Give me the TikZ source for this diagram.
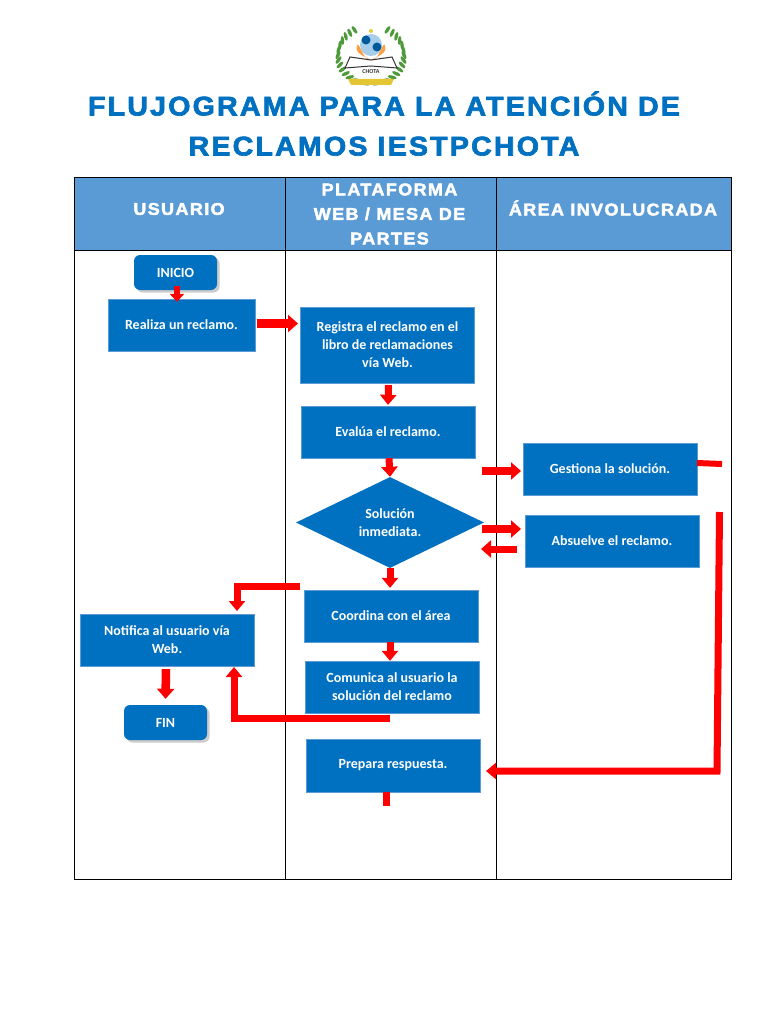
\documentclass[tikz,border=0pt]{standalone}
\usepackage{fontspec}
\setmainfont{Carlito}
\newfontfamily\titlefont[LetterSpace=8, FakeStretch=1.06, BoldFeatures={FakeBold=2.5}]{Liberation Sans}
\usetikzlibrary{arrows.meta, shapes.geometric, shadows}
\definecolor{azulcaja}{HTML}{0070C0}
\definecolor{azulhead}{HTML}{5B9BD5}
\definecolor{rojoflecha}{HTML}{FF0000}
\definecolor{verdelogo}{HTML}{4E9A3A}
\tikzset{
	caja/.style = {draw = azulhead, line width = 0.3pt, fill = azulcaja, text = white, font = \fontsize{14}{18}\selectfont\bfseries, minimum height = 52pt, minimum width = 174pt, align = center, inner sep = 0pt},
	inicioFin/.style = {fill = azulcaja, text = white, font = \fontsize{14}{18}\selectfont\bfseries, minimum height = 35pt, minimum width = 83pt, rounded corners = 6pt, drop shadow = {shadow xshift = 2.5pt, shadow yshift = -2.5pt, fill = black!40}},
	cabecera/.style = {text = white, font = \titlefont\fontsize{17}{24.5}\selectfont\bfseries, align = center},
	flecha/.style = {draw = rojoflecha, line width = 7pt, -{Triangle[length = 10pt, width = 16pt]}},
	flechaG/.style = {draw = rojoflecha, line width = 8.5pt, -{Triangle[length = 10pt, width = 17pt]}},
	tramo/.style = {draw = rojoflecha, line width = 6pt},
	hoja/.style = {fill = verdelogo, draw = none, ellipse, minimum width = 9pt, minimum height = 3.5pt, inner sep = 0pt}
}
\begin{document}
\begin{tikzpicture}[x = 1pt, y = -1pt]

	\useasboundingbox (0, 0) rectangle (768, 1024);

	% Logo
	\foreach \ang in {100, 110, ..., 240} {
		\node[hoja, rotate = \ang + 65] at ({371 + 33*cos(\ang)}, {55 + 29*sin(\ang)}) {};
		\node[hoja, rotate = 115 - \ang] at ({371 - 33*cos(\ang)}, {55 + 29*sin(\ang)}) {};
	}
	\fill[azulcaja!35!white] (371, 45) circle (11);
	\fill[azulcaja!80!black] (366, 40) circle (4.5);
	\fill[azulcaja!80!black] (377, 47) circle (4.5);
	\fill[orange!75!white] (357, 46) to[out = 80, in = 200] (371, 60) to[out = 150, in = 250] (357, 46);
	\fill[orange!75!white] (385, 46) to[out = 100, in = -20] (371, 60) to[out = 30, in = -70] (385, 46);
	\fill[yellow!60!brown] (371, 31) circle (2);
	\draw[black!80, fill = white, line width = 1pt] (345, 68) -- (350, 57) -- (371, 60) -- (392, 57) -- (397, 68) -- (371, 66) -- cycle;
	\node[font = \fontsize{6}{6}\selectfont\bfseries, text = black!80, fill = white, inner sep = 1pt] (logoTexto) at (371, 72) {CHOTA};
	\fill[yellow!55!brown] (348, 79) -- (394, 79) -- (391, 85) -- (351, 85) -- cycle;

	% Titulo
	\node[text = azulcaja, font = \titlefont\fontsize{27}{40}\selectfont\bfseries, align = center, anchor = north] (titulo) at (384, 88) {FLUJOGRAMA PARA LA ATENCIÓN DE\\RECLAMOS IESTPCHOTA};

	% Tabla
	\fill[azulhead] (74, 178) rectangle (731, 250);
	\draw[black, line width = 1pt] (74, 178) rectangle (731, 879);
	\draw[black, line width = 1pt] (74, 250) -- (731, 250);
	\draw[black, line width = 1pt] (285, 178) -- (285, 879);
	\draw[black, line width = 1pt] (496, 178) -- (496, 879);

	\node[cabecera] (usuario) at (179, 209) {USUARIO};
	\node[cabecera] (plataforma) at (389.5, 214) {PLATAFORMA\\WEB / MESA DE\\PARTES};
	\node[cabecera] (area) at (613, 208) {ÁREA INVOLUCRADA};

	% Cajas
	\node[inicioFin] (inicio) at (175.5, 272.5) {INICIO};
	\node[caja, minimum width = 147pt] (realiza) at (181.5, 325) {Realiza un reclamo.};
	\node[caja, minimum height = 76pt] (registra) at (387.5, 345) {Registra el reclamo en el\\libro de reclamaciones\\vía Web.};
	\node[caja] (evalua) at (388, 432) {Evalúa el reclamo.};
	\node[caja] (gestiona) at (610, 469) {Gestiona la solución.};
	\node[caja] (absuelve) at (612, 541) {Absuelve el reclamo.};
	\node[diamond, fill = azulcaja, text = white, font = \fontsize{14}{18}\selectfont\bfseries, align = center, minimum width = 188pt, minimum height = 91pt, inner sep = 0pt, aspect = 2.07] (solucion) at (390, 522.5) {Solución\\inmediata.};
	\node[caja] (coordina) at (391, 616) {Coordina con el área};
	\node[caja] (comunica) at (392, 687) {Comunica al usuario la\\solución del reclamo};
	\node[caja, minimum height = 53pt] (prepara) at (393, 765.5) {Prepara respuesta.};
	\node[caja] (notifica) at (167, 640) {Notifica al usuario vía\\Web.};
	\node[inicioFin] (fin) at (165.5, 722.5) {FIN};

	% Puntos sueltos
	\coordinate (a1) at (257, 323.5);
	\coordinate (a2) at (298, 323.5);
	\coordinate (g1) at (482, 471);
	\coordinate (g2) at (521, 471);
	\coordinate (s1) at (482, 529);
	\coordinate (s2) at (521, 529);
	\coordinate (s3) at (517, 549);
	\coordinate (s4) at (481, 549);
	\coordinate (g3) at (697, 463);
	\coordinate (g4) at (722, 464);
	\coordinate (v1) at (719.5, 512);
	\coordinate (v2) at (717, 771);
	\coordinate (v3) at (486, 771);
	\coordinate (c1) at (300, 586);
	\coordinate (c2) at (237, 586);
	\coordinate (c3) at (237, 611);
	\coordinate (m1) at (390, 718);
	\coordinate (m2) at (234, 718);
	\coordinate (m3) at (234, 667);
	\coordinate (p1) at (386, 792);
	\coordinate (p2) at (386, 806);

	% Flechas
	\draw[flecha, line width = 5.5pt, -{Triangle[length = 8pt, width = 14pt]}] ([xshift = 1.5pt, yshift = 4pt]inicio.south) -- ([xshift = -4.5pt, yshift = -3pt]realiza.north);
	\draw[flechaG] (a1) -- (a2);
	\draw[flecha] ([xshift = 1pt, yshift = -2pt]registra.south) -- ([yshift = 1pt]evalua.north);
	\draw[flecha] ([xshift = 1pt]evalua.south) -- (solucion.north);
	\draw[flechaG] (g1) -- (g2);
	\draw[flechaG] (s1) -- (s2);
	\draw[flechaG, line width = 7pt] (s3) -- (s4);
	\draw[flecha] (solucion.south) -- ([xshift = -1pt, yshift = 2pt]coordina.north);
	\draw[flecha] ([xshift = -1pt]coordina.south) -- ([xshift = -2pt]comunica.north);
	\draw[flechaG] ([xshift = -1pt, yshift = -3pt]notifica.south) -- ([yshift = 6pt]fin.north);
	\draw[tramo] (g3) -- (g4);
	\draw[flecha] (v1) -- (v2) -- (v3);
	\draw[flecha] (c1) -- (c2) -- (c3);
	\draw[flecha] (m1) -- (m2) -- (m3);
	\draw[tramo, line width = 7pt] (p1) -- (p2);

\end{tikzpicture}
\end{document}
